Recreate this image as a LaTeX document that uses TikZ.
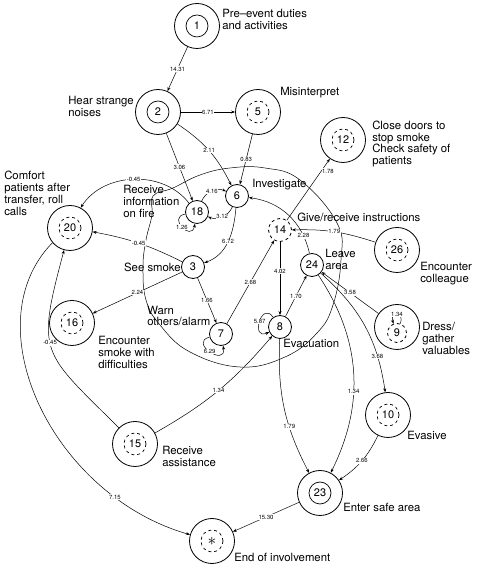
\documentclass[tikz,border=0pt]{standalone}
\usepackage{fontspec}
\setmainfont{TeX Gyre Heros}
\usetikzlibrary{arrows.meta}

\begin{document}
\begin{tikzpicture}[->,>={Stealth[length=4bp,width=3bp]},x=1bp,y=1bp,line width=0.5bp]
  \tikzstyle{act} = [circle,draw,line width=0.8bp,minimum size=23bp,inner sep=0pt,font=\fontsize{11}{12}\selectfont]
  \tikzstyle{actd} = [act,dashed]
  \tikzstyle{shell} = [circle,draw,line width=0.8bp,minimum size=45bp,inner sep=0pt,font=\fontsize{11}{12}\selectfont]
  \tikzstyle{ring} = [shell,path picture={\draw[-,line width=0.7bp] (path picture bounding box.center) circle (11bp);}]
  \tikzstyle{ringd} = [shell,path picture={\draw[-,line width=0.7bp,dashed] (path picture bounding box.center) circle (11bp);}]
  \tikzstyle{txt} = [align=left,inner sep=0pt,font=\fontsize{11.4}{12}\selectfont]
  \tikzstyle{num} = [font=\fontsize{6}{6}\selectfont,fill=white,inner sep=0.6pt]

  \useasboundingbox (0,0) rectangle (480,574);

  % zone round the central activities
  \draw[-] plot[smooth cycle,tension=0.7] coordinates {(153,378) (152,359) (146,334) (143,307) (146,274) (160,249) (190,222) (240,207) (285,217) (317,241) (333,269) (341,314) (337,351) (300,394) (265,406) (230,406) (200,399) (173,386)};

  \node[ring] (n1) at (197,548) {1};
  \node[ring] (n2) at (158,462) {2};
  \node[ringd] (n5) at (258,462) {5};
  \node[ringd] (n12) at (343,434) {12};
  \node[act] (n6) at (237,378) {6};
  \node[act] (n18) at (197,362) {18};
  \node[ringd] (n20) at (70,346) {20};
  \node[act] (n3) at (193,307) {3};
  \node[actd] (n14) at (280,344) {14};
  \node[act] (n24) at (312,309) {24};
  \node[ringd] (n26) at (397,324) {26};
  \node[shell] (n9) at (397,247) {};
  \node[actd,minimum size=19bp] (n9c) at (397,241) {9};
  \node[act] (n8) at (280,247) {8};
  \node[act] (n7) at (221,240) {7};
  \node[ringd] (n16) at (72,251) {16};
  \node[ringd] (n15) at (135,130) {15};
  \node[ringd] (n10) at (388,159) {10};
  \node[ring] (n23) at (320,81) {23};
  \node[ringd] (nend) at (212,33) {\fontsize{16}{16}\selectfont$\ast$};

  \node[txt,anchor=west] (t1) at (222,555) {Pre--event duties\\and activities};
  \node[txt,anchor=west] (t2) at (68,468) {Hear strange\\noises};
  \node[txt,anchor=west] (t5) at (280,481) {Misinterpret};
  \node[txt,anchor=west] (t12) at (372,430) {Close doors to\\stop smoke\\Check safety of\\patients};
  \node[txt,anchor=west] (t6) at (252,389) {Investigate};
  \node[txt,anchor=west] (t18) at (123,373) {Receive\\information\\on fire};
  \node[txt,anchor=west] (t20) at (4,381) {Comfort\\patients after\\transfer, roll\\calls};
  \node[txt,anchor=east] (t3) at (181,307) {See smoke};
  \node[txt,anchor=west] (t14) at (297,357) {Give/receive instructions};
  \node[txt,anchor=west] (t24) at (325,315) {Leave\\area};
  \node[txt,anchor=west] (t26) at (420,300) {Encounter\\colleague};
  \node[txt,anchor=west] (t9) at (422,236) {Dress/\\gather\\valuables};
  \node[txt,anchor=west] (t7) at (147,258) {Warn\\others/alarm};
  \node[txt,anchor=west] (t8) at (283,231) {Evacuation};
  \node[txt,anchor=west] (t16) at (98,222) {Encounter\\smoke with\\difficulties};
  \node[txt,anchor=west] (t15) at (162,118) {Receive\\assistance};
  \node[txt,anchor=west] (t10) at (407,139) {Evasive};
  \node[txt,anchor=west] (t23) at (343,67) {Enter safe area};
  \node[txt,anchor=west] (tend) at (234,17) {End of involvement};

  \path (n1) edge node[num]{14.31} (n2);
  \path (n2) edge node[num]{6.71} (n5);
  \path (n2) edge node[num]{3.06} (n18);
  \path (n2) edge[bend left=15] node[num]{2.11} (n6);
  \path (n5) edge node[num]{0.83} (n6);
  \path (n18) edge[bend left=45] node[num]{4.16} (n6);
  \path (n6) edge[bend left=45] node[num]{3.12} (n18);
  \path (n18) edge[out=190,in=260,looseness=3.5] node[num]{1.26} (n18);
  \path (n6) edge[out=-95,in=20] node[num]{6.72} (n3);
  \path (n18) edge[bend right=55] node[num]{-0.45} (n20);
  \path (n3) edge[bend right=8] node[num]{-0.45} (n20);
  \path (n3) edge node[num]{2.24} (n16);
  \path (n3) edge node[num]{1.66} (n7);
  \path (n7) edge[out=195,in=280,looseness=3.5] node[num]{6.29} (n7);
  \path (n7) edge node[num]{2.68} (n14);
  \path (n14) edge node[num,pos=0.4]{4.02} (n8);
  \path (n8) edge[out=125,in=205,looseness=3.5] node[num]{5.87} (n8);
  \path (n8) edge node[num]{1.70} (n24);
  \path (n14) edge node[num,pos=0.8,right]{1.78} (n12);
  \path (n26) edge[bend right=10] node[num]{1.79} (n14);
  \path (n24) edge[bend right=35] node[num,pos=0.2]{2.28} (n6);
  \path (n9) edge node[num]{3.58} (n24);
  \path (n9c) edge[out=70,in=110,looseness=5] node[num]{1.34} (n9c);
  \path (n24) edge[bend left=20] node[num,pos=0.75]{3.68} (n10);
  \path (n24) edge[bend left=30] node[num,pos=0.6]{1.34} (n23);
  \path (n8) edge[bend right=15] node[num,pos=0.65]{1.79} (n23);
  \path (n10) edge[bend left=15] node[num]{2.66} (n23);
  \path (n23) edge node[num]{15.30} (nend);
  \path (n15) edge[out=135,in=255,looseness=1.5] node[num,pos=0.55]{-0.45} (n20);
  \path (n15) edge[bend right=10] node[num]{1.34} (n8);
  \draw (n20.220) .. controls (-28,249) and (52,79) .. node[num,pos=0.8]{7.15} (nend);
\end{tikzpicture}
\end{document}
